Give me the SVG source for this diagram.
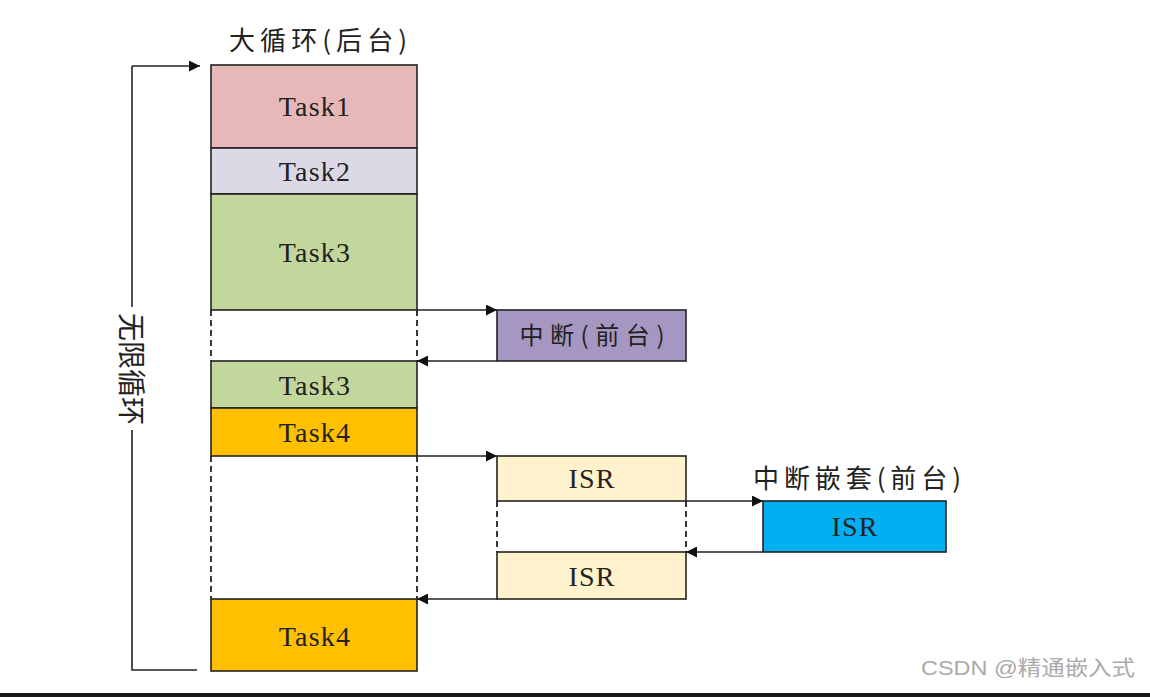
<svg xmlns="http://www.w3.org/2000/svg" width="1150" height="697" viewBox="0 0 1150 697">
<style>
.box{stroke:#222;stroke-width:1.6}
.lbl{font-family:"Liberation Serif","Noto Sans CJK SC",serif;font-size:28px;fill:#222;text-anchor:middle;letter-spacing:1.2px}
.cjk{font-family:"Noto Sans CJK SC","Liberation Serif",serif;fill:#222;text-anchor:middle}
.ln{stroke:#222;stroke-width:1.6;fill:none}
.dash{stroke:#222;stroke-width:1.8;stroke-dasharray:6 4;fill:none}
.arr{stroke:#222;stroke-width:1.6;fill:none;marker-end:url(#ah)}
</style>
<defs>
<marker id="ah" viewBox="0 0 10 10" refX="10" refY="5" markerWidth="11" markerHeight="11" markerUnits="userSpaceOnUse" orient="auto">
<path d="M0,0 L10,5 L0,10 z" fill="#111"/>
</marker>
</defs>
<rect width="1150" height="697" fill="#fff"/>
<text class="cjk" x="318" y="50" font-size="26" textLength="178" lengthAdjust="spacing">大循环(后台)</text>
<g id="task1"><rect class="box" x="211" y="65" width="206" height="83" fill="#E6B9B8"/><text class="lbl" x="315" y="116">Task1</text></g>
<g id="task2"><rect class="box" x="211" y="148" width="206" height="46" fill="#DDD8E6"/><text class="lbl" x="315" y="181">Task2</text></g>
<g id="task3"><rect class="box" x="211" y="194" width="206" height="116" fill="#C3D69B"/><text class="lbl" x="315" y="262">Task3</text></g>
<g id="task3b"><rect class="box" x="211" y="361" width="206" height="47" fill="#C3D69B"/><text class="lbl" x="315" y="395">Task3</text></g>
<g id="task4"><rect class="box" x="211" y="408" width="206" height="48" fill="#FFC000"/><text class="lbl" x="315" y="442">Task4</text></g>
<g id="task4b"><rect class="box" x="211" y="599" width="206" height="72" fill="#FFC000"/><text class="lbl" x="315" y="646">Task4</text></g>
<g id="irq"><rect class="box" x="497" y="310" width="189" height="51" fill="#A697C2"/><text class="cjk" x="592" y="344" font-size="24" textLength="145" lengthAdjust="spacing">中断(前台)</text></g>
<g id="isr1"><rect class="box" x="497" y="456" width="189" height="45" fill="#FFF2CC"/><text class="lbl" x="592" y="488">ISR</text></g>
<g id="isr2"><rect class="box" x="497" y="552" width="189" height="47" fill="#FFF2CC"/><text class="lbl" x="592" y="586">ISR</text></g>
<g id="nested"><text class="cjk" x="857" y="488" font-size="26" textLength="208" lengthAdjust="spacing">中断嵌套(前台)</text><rect class="box" x="763" y="501" width="183" height="51" fill="#00B0F0"/><text class="lbl" x="855" y="536">ISR</text></g>
<g id="loop">
<path class="ln" d="M132,307 V66"/>
<path class="arr" d="M132,66 H200"/>
<path class="ln" d="M132,430 V670 H197"/>
<text class="cjk" font-size="28" transform="translate(133,369) rotate(90)" dominant-baseline="central">无限循环</text>
</g>
<g id="connectors">
<path class="dash" d="M211,310 V361 M417,310 V361 M211,456 V599 M417,456 V599 M497,501 V552 M686,501 V552"/>
<path class="arr" d="M417,310 H497"/>
<path class="arr" d="M497,361 H417"/>
<path class="arr" d="M417,456 H497"/>
<path class="arr" d="M686,501 H763"/>
<path class="arr" d="M763,552 H686"/>
<path class="arr" d="M497,599 H417"/>
</g>
<text x="921" y="675" font-family="'Liberation Sans','Noto Sans CJK SC',sans-serif" font-size="21" fill="#aaa" textLength="214" lengthAdjust="spacingAndGlyphs">CSDN @精通嵌入式</text>
<rect x="0" y="693" width="1150" height="4" fill="#1a1a1a"/>
</svg>
